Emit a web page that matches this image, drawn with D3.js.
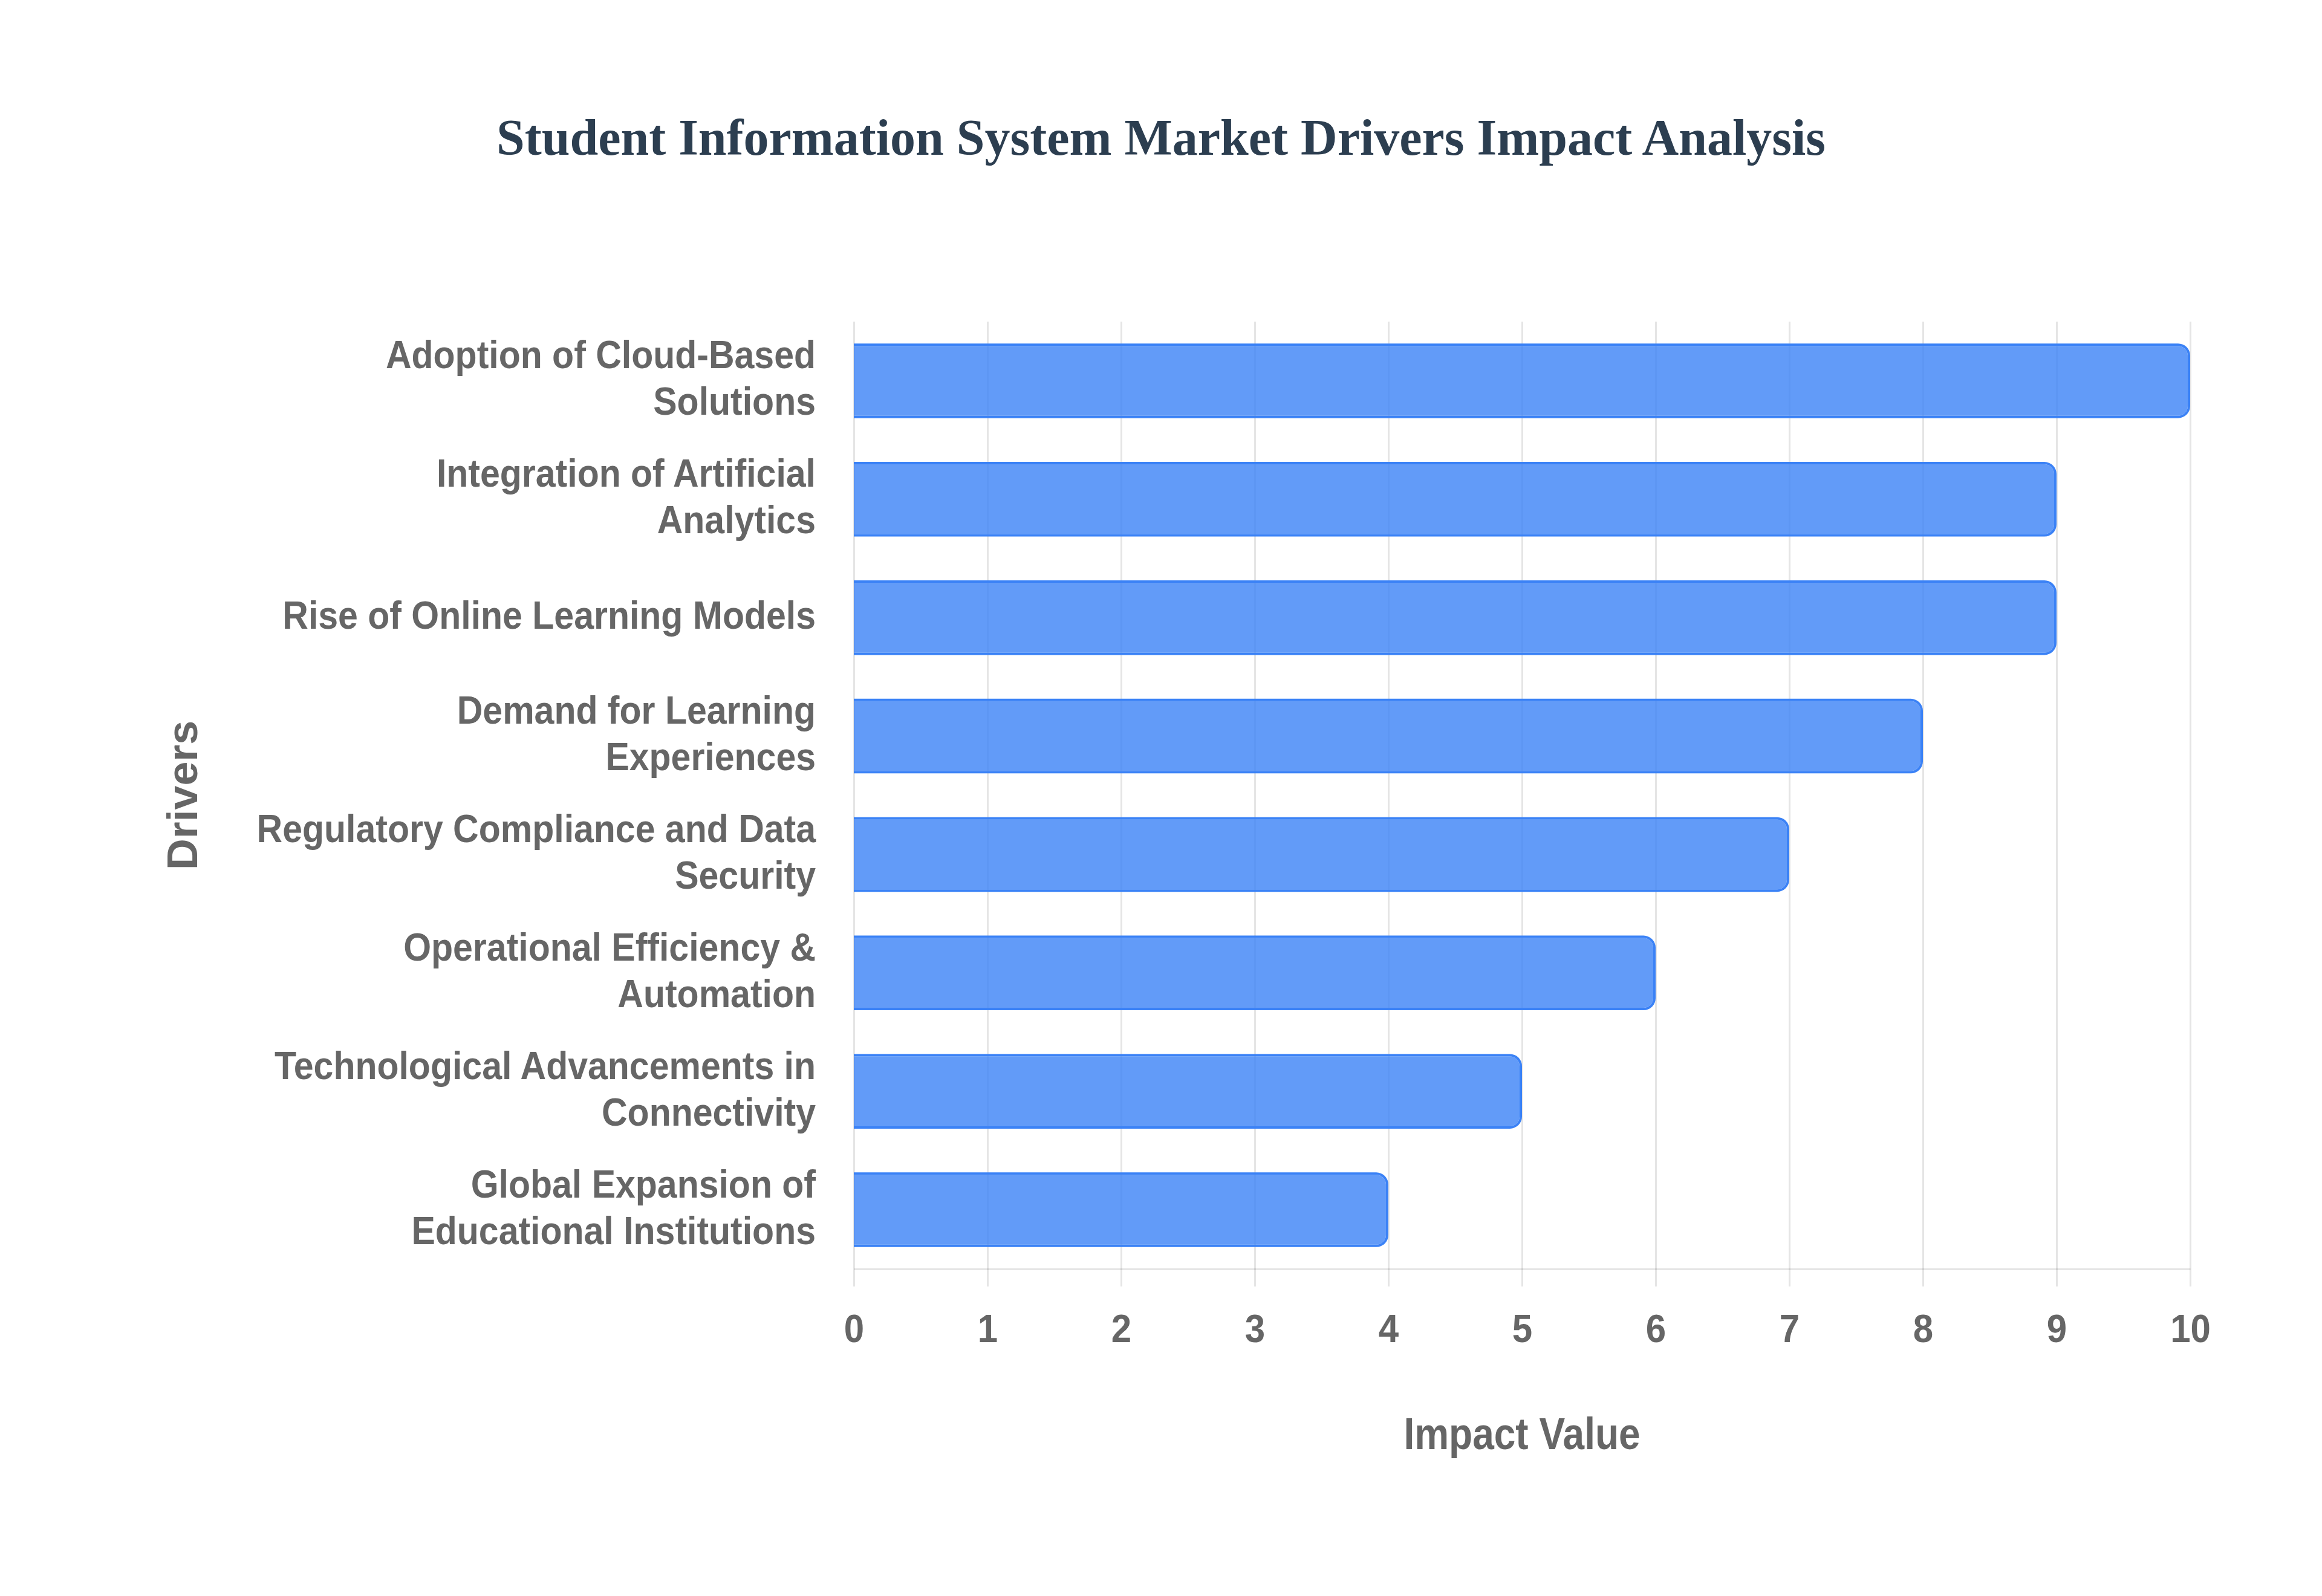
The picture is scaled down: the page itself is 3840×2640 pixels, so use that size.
<!DOCTYPE html>
<html>
<head>
<meta charset="utf-8">
<script src="https://cdn.jsdelivr.net/npm/d3@7"></script>
<style>
  html, body { margin: 0; padding: 0; background: #ffffff; }
</style>
</head>
<body>
<svg id="chart" width="3840" height="2640"></svg>
<script>
// ---------- data ----------
const categories = [
  ["Adoption of Cloud-Based", "Solutions"],
  ["Integration of Artificial", "Analytics"],
  ["Rise of Online Learning Models"],
  ["Demand for Learning", "Experiences"],
  ["Regulatory Compliance and Data", "Security"],
  ["Operational Efficiency &", "Automation"],
  ["Technological Advancements in", "Connectivity"],
  ["Global Expansion of", "Educational Institutions"]
];
const values = [10, 9, 9, 8, 7, 6, 5, 4];
const xTicks = [0, 1, 2, 3, 4, 5, 6, 7, 8, 9, 10];
const chartTitle = "Student Information System Market Drivers Impact Analysis";
const xTitle = "Impact Value";
const yTitle = "Drivers";

// ---------- layout ----------
const W = 3840, H = 2640;
const plot = { left: 1412, right: 3622, top: 532, bottom: 2099 };
const sans = "'Liberation Sans', Arial, Helvetica, sans-serif";
const textColor = "#666666";
const gridColor = "rgba(0,0,0,0.1)";

const svg = d3.select("#chart");
svg.append("rect").attr("width", W).attr("height", H).attr("fill", "#ffffff");

const keys = categories.map(d => d.join(" "));
const x = d3.scaleLinear().domain([0, 10]).range([plot.left, plot.right]);
const y = d3.scaleBand().domain(keys).range([plot.top, plot.bottom])
  .paddingInner(0.37).paddingOuter(0.185);

// ---------- grid ----------
const grid = svg.append("g").attr("transform", `translate(0,${plot.bottom})`)
  .call(d3.axisBottom(x).tickValues(xTicks)
    .tickSizeInner(-(plot.bottom - plot.top)).tickSizeOuter(0).tickFormat(""));
grid.select(".domain").remove();
grid.selectAll(".tick line").attr("stroke", gridColor).attr("stroke-width", 3);

// ---------- x axis ----------
const xAxis = svg.append("g").attr("transform", `translate(0,${plot.bottom})`)
  .call(d3.axisBottom(x).tickValues(xTicks).tickSizeInner(29).tickSizeOuter(0));
xAxis.select(".domain").attr("stroke", gridColor).attr("stroke-width", 3);
xAxis.selectAll(".tick line").attr("stroke", gridColor).attr("stroke-width", 3);
xAxis.selectAll(".tick text")
  .attr("y", 0).attr("dy", null)
  .attr("transform", "translate(0,121) scale(1,1.07)")
  .attr("fill", textColor)
  .style("font-family", sans).style("font-size", "60px").style("font-weight", "bold");

// ---------- bars ----------
const bw = 4, r = 20;
function barPath(x0, x1, y0, y1, rad) {
  const rr = Math.min(rad, (y1 - y0) / 2, x1 - x0);
  return `M${x0},${y0}H${x1 - rr}A${rr},${rr} 0 0 1 ${x1},${y0 + rr}V${y1 - rr}A${rr},${rr} 0 0 1 ${x1 - rr},${y1}H${x0}Z`;
}
const bars = svg.append("g");
keys.forEach((k, i) => {
  const y0 = y(k), y1 = y(k) + y.bandwidth();
  const x0 = x(0), x1 = x(values[i]);
  const outer = barPath(x0, x1, y0, y1, r);
  const inner = barPath(x0, x1 - bw, y0 + bw, y1 - bw, r - bw);
  bars.append("path").attr("d", outer + inner).attr("fill-rule", "evenodd")
    .attr("fill", "#3b82f6");
  bars.append("path").attr("d", inner).attr("fill", "rgba(59,130,246,0.8)");
});

// ---------- y axis labels ----------
const yAxis = svg.append("g").attr("transform", `translate(${plot.left},0)`)
  .call(d3.axisLeft(y).tickSize(0).tickPadding(63));
yAxis.select(".domain").remove();
const lineH = 77;
yAxis.selectAll(".tick").each(function (k) {
  const g = d3.select(this);
  g.select("text").remove();
  const lines = categories[keys.indexOf(k)];
  lines.forEach((ln, j) => {
    const off = (j - (lines.length - 1) / 2) * lineH + 18;
    g.append("text")
      .attr("transform", `translate(-63,${off}) scale(1,1.09)`)
      .attr("text-anchor", "end")
      .attr("fill", textColor)
      .style("font-family", sans).style("font-size", "59px").style("font-weight", "bold")
      .text(ln);
  });
});

// ---------- titles ----------
svg.append("text").attr("x", 1920).attr("y", 256).attr("text-anchor", "middle")
  .attr("fill", "#2c3e50")
  .style("font-family", "'Liberation Serif', 'Times New Roman', serif")
  .style("font-size", "84px").style("font-weight", "bold")
  .text(chartTitle);

svg.append("text")
  .attr("transform", `translate(${(plot.left + plot.right) / 2},2397) scale(1,1.17)`)
  .attr("text-anchor", "middle").attr("fill", textColor)
  .style("font-family", sans).style("font-size", "64px").style("font-weight", "bold")
  .text(xTitle);

svg.append("text")
  .attr("transform", `translate(326,${(plot.top + plot.bottom) / 2}) rotate(-90) scale(1.12,1.09)`)
  .attr("text-anchor", "middle").attr("fill", textColor)
  .style("font-family", sans).style("font-size", "64px").style("font-weight", "bold")
  .text(yTitle);
</script>
</body>
</html>
